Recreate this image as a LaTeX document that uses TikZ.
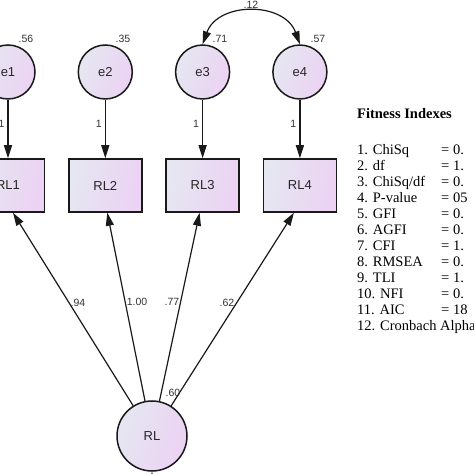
\documentclass[tikz,border=0pt]{standalone}
\usepackage{fontspec}
\setmainfont{Liberation Serif}
\newfontfamily\amosfont{Liberation Sans}
\usetikzlibrary{arrows.meta}
\definecolor{fillblue}{RGB}{229,231,241}
\definecolor{fillpink}{RGB}{236,210,243}
\definecolor{edgegray}{RGB}{25,25,25}
\tikzset{
  latent/.style={circle, draw=edgegray, line width=1.5pt, minimum size=54pt, inner sep=0pt,
    left color=fillblue, right color=fillpink, shading angle=70,
    font=\amosfont\fontsize{13}{13}\selectfont, text=black!85},
  observed/.style={rectangle, draw=edgegray, line width=1.5pt, minimum width=73pt,
    minimum height=53pt, inner sep=0pt, left color=fillblue, right color=fillpink,
    shading angle=80, font=\amosfont\fontsize{13}{13}\selectfont, text=black!85},
  loading/.style={line width=1.2pt, draw=edgegray, -{Triangle[length=13pt,width=8pt]}},
  est/.style={font=\amosfont\fontsize{10.5}{10.5}\selectfont, text=black!80, inner sep=0pt},
  fitline/.style={anchor=base west, inner sep=0pt, font=\fontsize{14.5}{16}\selectfont}
}
\begin{document}
\begin{tikzpicture}[x=1pt,y=1pt]
        \useasboundingbox (0,0) rectangle (474,474);
        \clip (0,0) rectangle (474,474);
        % Error terms
        \node[latent] (e1) at (8,402) {e1};
        \node[latent] (e2) at (105.3,402) {e2};
        \node[latent] (e3) at (202.6,402) {e3};
        \node[latent] (e4) at (299.9,402) {e4};
        \node[est] at (26,435) {.56};
        \node[est] at (123,435) {.35};
        \node[est] at (220,435) {.71};
        \node[est] at (318,435) {.57};
        % Items
        \node[observed] (RL1) at (8,288.5) {RL1};
        \node[observed] (RL2) at (105.3,288.5) {RL2};
        \node[observed] (RL3) at (202.6,288.5) {RL3};
        \node[observed] (RL4) at (299.9,288.5) {RL4};
        \draw[loading] (e1) -- (RL1);
        \draw[loading] (e2) -- (RL2);
        \draw[loading] (e3) -- (RL3);
        \draw[loading] (e4) -- (RL4);
        \node[est] at (1.5,350) {1};
        \node[est] at (98.8,350) {1};
        \node[est] at (196.1,350) {1};
        \node[est] at (293.4,350) {1};
        % Covariance e3 <-> e4
        \draw[line width=1.2pt, draw=edgegray, {Triangle[length=13pt,width=8pt]}-{Triangle[length=13pt,width=8pt]}]
            (e3.north) to[out=70,in=110,looseness=1.2] (e4.north);
        \node[est] at (251,469) {.12};
        % Latent factor
        \node[latent, minimum size=70pt] (RL) at (152,38) {RL};
        \coordinate (t1) at ([xshift=5pt]RL1.south);
        \coordinate (t2) at ([xshift=2pt]RL2.south);
        \coordinate (t3) at ([xshift=-3pt]RL3.south);
        \coordinate (t4) at ([xshift=-6pt]RL4.south);
        \draw[loading] (RL) -- (t1);
        \draw[loading] (RL) -- (t2);
        \draw[loading] (RL) -- (t3);
        \draw[loading] (RL) -- (t4);
        \node[est] at (78,171) {.94};
        \node[est] at (137,172) {1.00};
        \node[est] at (172,172) {.77};
        \node[est] at (227,171) {.62};
        \node[est] at (173,81) {.60};
        \coordinate (rlerr) at ([yshift=-20pt]RL.south);
        \draw[loading] (rlerr) -- (RL.south);
        % Fitness indexes
        \node[fitline, font=\bfseries\fontsize{14.5}{16}\selectfont] (fittitle) at (357,355.5) {Fitness Indexes};
        \foreach \lab/\val [count=\i] in {{1. ChiSq}/{= 0.}, {2. df}/{= 1.}, {3. ChiSq/df}/{= 0.},
            {4. P-value}/{= 05}, {5. GFI}/{= 0.}, {6. AGFI}/{= 0.}, {7. CFI}/{= 1.},
            {8. RMSEA}/{= 0.}, {9. TLI}/{= 1.}, {10. NFI}/{= 0.}, {11. AIC}/{= 18},
            {12. Cronbach Alpha}/{}} {
          \node[fitline] (fit\i) at (357,{319.4-16*(\i-1)}) {\lab};
          \node[fitline] (val\i) at (441,{319.4-16*(\i-1)}) {\val};
        }
\end{tikzpicture}
\end{document}
